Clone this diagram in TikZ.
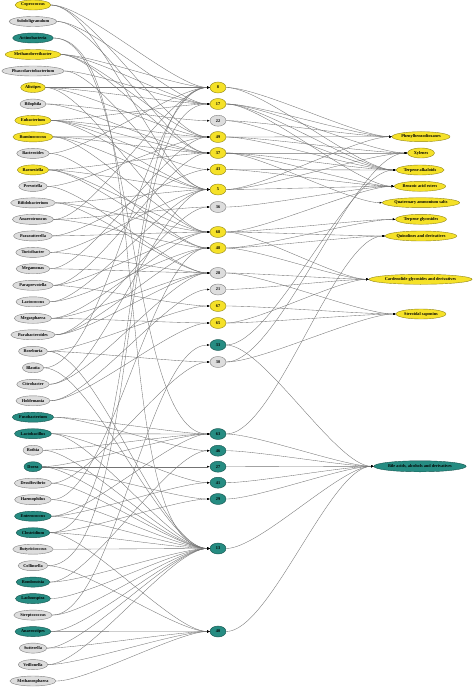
\documentclass[tikz,border=0pt]{standalone}
\usepackage{fontspec}
\setmainfont{Liberation Serif}
\usepackage{tikz}
\usetikzlibrary{shapes}
\usetikzlibrary{shapes.geometric}
\usetikzlibrary{arrows.meta}

\definecolor{nodeyellow}{RGB}{245,225,40}
\definecolor{nodeteal}{RGB}{38,140,130}
\definecolor{nodegray}{RGB}{221,221,221}

\tikzset{
  taxon/.style={ellipse, inner sep=0.8pt, minimum height=10pt,
    font=\fontsize{4.3}{5}\selectfont\bfseries, line width=0.4pt},
  yel/.style={taxon, draw=nodeyellow!60!black, fill=nodeyellow},
  gry/.style={taxon, draw=black!50, fill=nodegray},
  tea/.style={taxon, draw=nodeteal!60!black, fill=nodeteal},
  mid/.style={minimum width=16pt, minimum height=11pt},
  link/.style={draw=black!55, line width=0.35pt,
    -{Latex[length=2.6pt,width=2pt,color=black]}}
}

\begin{document}
\begin{tikzpicture}[x=1pt, y=-1pt]
\fill[white] (0,0) rectangle (474,687);
\useasboundingbox (0,0) rectangle (474,687);

% left column
\node[yel] (copro) at (33,5) {Coprococcus};
\node[gry] (subdo) at (33,21.5) {Subdoligranulum};
\node[tea] (actino) at (33,38) {Actinobacteria};
\node[yel] (metbr) at (33,54.5) {Methanobrevibacter};
\node[gry] (phasc) at (33,71) {Phascolarctobacterium};
\node[yel] (alist) at (33,87.5) {Alistipes};
\node[gry] (bilo) at (33,104) {Bilophila};
\node[yel] (eubac) at (33,120.4) {Eubacterium};
\node[yel] (rumin) at (33,136.9) {Ruminococcus};
\node[gry] (bacte) at (33,153.4) {Bacteroides};
\node[yel] (barne) at (33,169.9) {Barnesiella};
\node[gry] (prevo) at (33,186.4) {Prevotella};
\node[gry] (bifid) at (33,202.9) {Bifidobacterium};
\node[gry] (anaer) at (33,219.4) {Anaerotruncus};
\node[gry] (paras) at (33,235.9) {Parasutterella};
\node[gry] (turic) at (33,252.4) {Turicibacter};
\node[gry] (megam) at (33,268.8) {Megamonas};
\node[gry] (parap) at (33,285.3) {Paraprevotella};
\node[gry] (lacto) at (33,301.8) {Lactococcus};
\node[gry] (megas) at (33,318.3) {Megasphaera};
\node[gry] (parab) at (33,334.8) {Parabacteroides};
\node[gry] (roseb) at (33,351.3) {Roseburia};
\node[gry] (blaut) at (33,367.8) {Blautia};
\node[gry] (citro) at (33,384.3) {Citrobacter};
\node[gry] (holde) at (33,400.8) {Holdemania};
\node[tea] (fusob) at (33,417.2) {Fusobacterium};
\node[tea] (lactb) at (33,433.7) {Lactobacillus};
\node[gry] (rothi) at (33,450.2) {Rothia};
\node[tea] (dorea) at (33,466.7) {Dorea};
\node[gry] (desul) at (33,483.2) {Desulfovibrio};
\node[gry] (haemo) at (33,499.7) {Haemophilus};
\node[tea] (enter) at (33,516.2) {Enterococcus};
\node[tea] (clost) at (33,532.7) {Clostridium};
\node[gry] (butyr) at (33,549.2) {Butyricicoccus};
\node[gry] (colli) at (33,565.7) {Collinsella};
\node[tea] (rombo) at (33,582.1) {Romboutsia};
\node[tea] (lachn) at (33,598.6) {Lachnospira};
\node[gry] (strep) at (33,615.1) {Streptococcus};
\node[tea] (anaes) at (33,631.6) {Anaerostipes};
\node[gry] (sutte) at (33,648.1) {Sutterella};
\node[gry] (veill) at (33,664.6) {Veillonella};
\node[gry] (metsp) at (33,681) {Methanosphaera};

% middle column
\node[yel, mid] (m8) at (218,87.5) {8};
\node[yel, mid] (m17) at (218,104) {17};
\node[gry, mid] (m22) at (218,120.7) {22};
\node[yel, mid] (m49) at (218,137) {49};
\node[yel, mid] (m37) at (218,153) {37};
\node[yel, mid] (m43) at (218,169.5) {43};
\node[yel, mid] (m5) at (218,189.5) {5};
\node[gry, mid] (m36) at (218,207) {36};
\node[yel, mid] (m68) at (218,232) {68};
\node[yel, mid] (m48) at (218,248) {48};
\node[gry, mid] (m28) at (218,273) {28};
\node[gry, mid] (m21) at (218,289.5) {21};
\node[yel, mid] (m67) at (218,306) {67};
\node[yel, mid] (m65) at (218,323) {65};
\node[tea, mid] (m33) at (218,345) {33};
\node[gry, mid] (m30) at (218,362) {30};
\node[tea, mid] (m63) at (218,434) {63};
\node[tea, mid] (m46) at (218,450.7) {46};
\node[tea, mid] (m27) at (218,466.7) {27};
\node[tea, mid] (m41) at (218,482.7) {41};
\node[tea, mid] (m29) at (218,499) {29};
\node[tea, mid] (m13) at (218,548.5) {13};
\node[tea, mid] (m40) at (218,631.5) {40};

% right column
\node[yel] (phen) at (421,136.7) {Phenylbenzodioxanes};
\node[yel, minimum width=27pt] (xyl) at (421,153) {Xylenes};
\node[yel] (talk) at (420,170) {Terpene alkaloids};
\node[yel] (benz) at (420,186.3) {Benzoic acid esters};
\node[yel] (quat) at (421,202.7) {Quaternary ammonium salts};
\node[yel] (tgly) at (421,219.3) {Terpene glycosides};
\node[yel] (quin) at (421,236) {Quinolines and derivatives};
\node[yel] (card) at (420.5,279.3) {Cardenolide glycosides and derivatives};
\node[yel] (ster) at (421,314) {Steroidal saponins};
\node[tea, minimum height=11pt] (bile) at (420,466.3) {Bile acids, alcohols and derivatives};

% left to middle
\draw[link] (copro) to[out=0,in=180,looseness=0.5] (m8);
\draw[link] (copro) to[out=0,in=180,looseness=0.5] (m49);
\draw[link] (copro) to[out=0,in=180,looseness=0.5] (m5);
\draw[link] (subdo) to[out=0,in=180,looseness=0.5] (m17);
\draw[link] (subdo) to[out=0,in=180,looseness=0.5] (m37);
\draw[link] (actino) to[out=0,in=180,looseness=0.5] (m63);
\draw[link] (actino) to[out=0,in=180,looseness=0.5] (m13);
\draw[link] (metbr) to[out=0,in=180,looseness=0.5] (m8);
\draw[link] (metbr) to[out=0,in=180,looseness=0.5] (m17);
\draw[link] (metbr) to[out=0,in=180,looseness=0.5] (m49);
\draw[link] (metbr) to[out=0,in=180,looseness=0.5] (m37);
\draw[link] (phasc) to[out=0,in=180,looseness=0.5] (m17);
\draw[link] (phasc) to[out=0,in=180,looseness=0.5] (m5);
\draw[link] (alist) to[out=0,in=180,looseness=0.5] (m8);
\draw[link] (alist) to[out=0,in=180,looseness=0.5] (m17);
\draw[link] (alist) to[out=0,in=180,looseness=0.5] (m49);
\draw[link] (alist) to[out=0,in=180,looseness=0.5] (m68);
\draw[link] (bilo) to[out=0,in=180,looseness=0.5] (m22);
\draw[link] (bilo) to[out=0,in=180,looseness=0.5] (m37);
\draw[link] (eubac) to[out=0,in=180,looseness=0.5] (m17);
\draw[link] (eubac) to[out=0,in=180,looseness=0.5] (m49);
\draw[link] (eubac) to[out=0,in=180,looseness=0.5] (m37);
\draw[link] (eubac) to[out=0,in=180,looseness=0.5] (m43);
\draw[link] (eubac) to[out=0,in=180,looseness=0.5] (m5);
\draw[link] (rumin) to[out=0,in=180,looseness=0.5] (m49);
\draw[link] (rumin) to[out=0,in=180,looseness=0.5] (m37);
\draw[link] (rumin) to[out=0,in=180,looseness=0.5] (m5);
\draw[link] (rumin) to[out=0,in=180,looseness=0.5] (m68);
\draw[link] (bacte) to[out=0,in=180,looseness=0.5] (m8);
\draw[link] (bacte) to[out=0,in=180,looseness=0.5] (m48);
\draw[link] (barne) to[out=0,in=180,looseness=0.5] (m37);
\draw[link] (barne) to[out=0,in=180,looseness=0.5] (m5);
\draw[link] (barne) to[out=0,in=180,looseness=0.5] (m68);
\draw[link] (barne) to[out=0,in=180,looseness=0.5] (m48);
\draw[link] (prevo) to[out=0,in=180,looseness=0.5] (m49);
\draw[link] (prevo) to[out=0,in=180,looseness=0.5] (m28);
\draw[link] (bifid) to[out=0,in=180,looseness=0.5] (m5);
\draw[link] (bifid) to[out=0,in=180,looseness=0.5] (m68);
\draw[link] (bifid) to[out=0,in=180,looseness=0.5] (m28);
\draw[link] (anaer) to[out=0,in=180,looseness=0.5] (m8);
\draw[link] (anaer) to[out=0,in=180,looseness=0.5] (m36);
\draw[link] (anaer) to[out=0,in=180,looseness=0.5] (m48);
\draw[link] (paras) to[out=0,in=180,looseness=0.5] (m43);
\draw[link] (paras) to[out=0,in=180,looseness=0.5] (m68);
\draw[link] (turic) to[out=0,in=180,looseness=0.5] (m5);
\draw[link] (turic) to[out=0,in=180,looseness=0.5] (m28);
\draw[link] (megam) to[out=0,in=180,looseness=0.5] (m49);
\draw[link] (megam) to[out=0,in=180,looseness=0.5] (m28);
\draw[link] (parap) to[out=0,in=180,looseness=0.5] (m37);
\draw[link] (parap) to[out=0,in=180,looseness=0.5] (m68);
\draw[link] (parap) to[out=0,in=180,looseness=0.5] (m67);
\draw[link] (lacto) to[out=0,in=180,looseness=0.5] (m5);
\draw[link] (lacto) to[out=0,in=180,looseness=0.5] (m48);
\draw[link] (megas) to[out=0,in=180,looseness=0.5] (m68);
\draw[link] (megas) to[out=0,in=180,looseness=0.5] (m28);
\draw[link] (megas) to[out=0,in=180,looseness=0.5] (m65);
\draw[link] (parab) to[out=0,in=180,looseness=0.5] (m36);
\draw[link] (parab) to[out=0,in=180,looseness=0.5] (m28);
\draw[link] (parab) to[out=0,in=180,looseness=0.5] (m48);
\draw[link] (roseb) to[out=0,in=180,looseness=0.5] (m30);
\draw[link] (roseb) to[out=0,in=180,looseness=0.5] (m67);
\draw[link] (roseb) to[out=0,in=180,looseness=0.5] (m13);
\draw[link] (blaut) to[out=0,in=180,looseness=0.5] (m8);
\draw[link] (blaut) to[out=0,in=180,looseness=0.5] (m13);
\draw[link] (citro) to[out=0,in=180,looseness=0.5] (m5);
\draw[link] (citro) to[out=0,in=180,looseness=0.5] (m28);
\draw[link] (holde) to[out=0,in=180,looseness=0.5] (m21);
\draw[link] (holde) to[out=0,in=180,looseness=0.5] (m65);
\draw[link] (fusob) to[out=0,in=180,looseness=0.5] (m63);
\draw[link] (fusob) to[out=0,in=180,looseness=0.5] (m46);
\draw[link] (lactb) to[out=0,in=180,looseness=0.5] (m63);
\draw[link] (lactb) to[out=0,in=180,looseness=0.5] (m41);
\draw[link] (lactb) to[out=0,in=180,looseness=0.5] (m13);
\draw[link] (rothi) to[out=0,in=180,looseness=0.5] (m63);
\draw[link] (rothi) to[out=0,in=180,looseness=0.5] (m13);
\draw[link] (dorea) to[out=0,in=180,looseness=0.5] (m63);
\draw[link] (dorea) to[out=0,in=180,looseness=0.5] (m27);
\draw[link] (dorea) to[out=0,in=180,looseness=0.5] (m29);
\draw[link] (dorea) to[out=0,in=180,looseness=0.5] (m13);
\draw[link] (desul) to[out=0,in=180,looseness=0.5] (m30);
\draw[link] (desul) to[out=0,in=180,looseness=0.5] (m13);
\draw[link] (haemo) to[out=0,in=180,looseness=0.5] (m48);
\draw[link] (haemo) to[out=0,in=180,looseness=0.5] (m13);
\draw[link] (enter) to[out=0,in=180,looseness=0.5] (m63);
\draw[link] (enter) to[out=0,in=180,looseness=0.5] (m41);
\draw[link] (enter) to[out=0,in=180,looseness=0.5] (m13);
\draw[link] (clost) to[out=0,in=180,looseness=0.5] (m8);
\draw[link] (clost) to[out=0,in=180,looseness=0.5] (m29);
\draw[link] (clost) to[out=0,in=180,looseness=0.5] (m13);
\draw[link] (clost) to[out=0,in=180,looseness=0.5] (m40);
\draw[link] (butyr) to[out=0,in=180,looseness=0.5] (m13);
\draw[link] (colli) to[out=0,in=180,looseness=0.5] (m17);
\draw[link] (colli) to[out=0,in=180,looseness=0.5] (m40);
\draw[link] (rombo) to[out=0,in=180,looseness=0.5] (m46);
\draw[link] (rombo) to[out=0,in=180,looseness=0.5] (m13);
\draw[link] (lachn) to[out=0,in=180,looseness=0.5] (m13);
\draw[link] (strep) to[out=0,in=180,looseness=0.5] (m33);
\draw[link] (strep) to[out=0,in=180,looseness=0.5] (m13);
\draw[link] (anaes) to[out=0,in=180,looseness=0.5] (m13);
\draw[link] (anaes) to[out=0,in=180,looseness=0.5] (m40);
\draw[link] (sutte) to[out=0,in=180,looseness=0.5] (m13);
\draw[link] (sutte) to[out=0,in=180,looseness=0.5] (m40);
\draw[link] (veill) to[out=0,in=180,looseness=0.5] (m13);
\draw[link] (veill) to[out=0,in=180,looseness=0.5] (m40);
\draw[link] (metsp) to[out=0,in=180,looseness=0.5] (m40);

% middle to right
\draw[link] (m8) to[out=0,in=180,looseness=0.5] (phen);
\draw[link] (m8) to[out=0,in=180,looseness=0.5] (talk);
\draw[link] (m17) to[out=0,in=180,looseness=0.5] (phen);
\draw[link] (m17) to[out=0,in=180,looseness=0.5] (xyl);
\draw[link] (m17) to[out=0,in=180,looseness=0.5] (talk);
\draw[link] (m17) to[out=0,in=180,looseness=0.5] (benz);
\draw[link] (m22) to[out=0,in=180,looseness=0.5] (phen);
\draw[link] (m22) to[out=0,in=180,looseness=0.5] (talk);
\draw[link] (m49) to[out=0,in=180,looseness=0.5] (phen);
\draw[link] (m49) to[out=0,in=180,looseness=0.5] (xyl);
\draw[link] (m49) to[out=0,in=180,looseness=0.5] (talk);
\draw[link] (m37) to[out=0,in=180,looseness=0.5] (xyl);
\draw[link] (m37) to[out=0,in=180,looseness=0.5] (talk);
\draw[link] (m37) to[out=0,in=180,looseness=0.5] (benz);
\draw[link] (m37) to[out=0,in=180,looseness=0.5] (quat);
\draw[link] (m43) to[out=0,in=180,looseness=0.5] (talk);
\draw[link] (m43) to[out=0,in=180,looseness=0.5] (benz);
\draw[link] (m5) to[out=0,in=180,looseness=0.5] (phen);
\draw[link] (m5) to[out=0,in=180,looseness=0.5] (xyl);
\draw[link] (m5) to[out=0,in=180,looseness=0.5] (benz);
\draw[link] (m36) to[out=0,in=180,looseness=0.5] (benz);
\draw[link] (m68) to[out=0,in=180,looseness=0.5] (benz);
\draw[link] (m68) to[out=0,in=180,looseness=0.5] (tgly);
\draw[link] (m68) to[out=0,in=180,looseness=0.5] (quin);
\draw[link] (m68) to[out=0,in=180,looseness=0.5] (card);
\draw[link] (m48) to[out=0,in=180,looseness=0.5] (tgly);
\draw[link] (m48) to[out=0,in=180,looseness=0.5] (quin);
\draw[link] (m48) to[out=0,in=180,looseness=0.5] (card);
\draw[link] (m28) to[out=0,in=180,looseness=0.5] (card);
\draw[link] (m28) to[out=0,in=180,looseness=0.5] (ster);
\draw[link] (m21) to[out=0,in=180,looseness=0.5] (card);
\draw[link] (m67) to[out=0,in=180,looseness=0.5] (ster);
\draw[link] (m65) to[out=0,in=180,looseness=0.5] (card);
\draw[link] (m65) to[out=0,in=180,looseness=0.5] (ster);
\draw[link] (m33) to[out=0,in=180,looseness=0.5] (talk);
\draw[link] (m33) to[out=0,in=180,looseness=0.5] (bile);
\draw[link] (m30) to[out=0,in=180,looseness=0.5] (xyl);
\draw[link] (m30) to[out=0,in=180,looseness=0.5] (ster);
\draw[link] (m63) to[out=0,in=180,looseness=0.5] (quin);
\draw[link] (m63) to[out=0,in=180,looseness=0.5] (bile);
\draw[link] (m46) to[out=0,in=180,looseness=0.5] (bile);
\draw[link] (m27) to[out=0,in=180,looseness=0.5] (bile);
\draw[link] (m41) to[out=0,in=180,looseness=0.5] (bile);
\draw[link] (m29) to[out=0,in=180,looseness=0.5] (bile);
\draw[link] (m13) to[out=0,in=180,looseness=0.5] (bile);
\draw[link] (m40) to[out=0,in=180,looseness=0.5] (bile);
\end{tikzpicture}
\end{document}
